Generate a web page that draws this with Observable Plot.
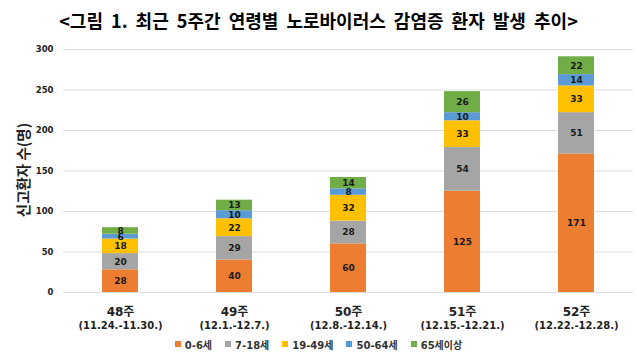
<!DOCTYPE html>
<html><head><meta charset="utf-8">
<script src="https://cdn.jsdelivr.net/npm/d3@7"></script>
<script src="https://cdn.jsdelivr.net/npm/@observablehq/plot@0.6"></script>
<style>
body{margin:0;background:#fff;width:637px;height:364px;overflow:hidden;font-family:"DejaVu Sans","Noto Sans CJK KR",sans-serif;}
#title{height:38px;line-height:40px;text-align:center;font-family:"Noto Sans CJK KR";font-weight:700;font-size:18px;color:#000;word-spacing:4px;}
#chart{position:relative;height:300px;}
#ytitle{position:absolute;left:22px;top:132px;transform:translate(-50%,-50%) rotate(-90deg);font-family:"Noto Sans CJK KR";font-weight:700;font-size:14.5px;white-space:nowrap;color:#222;}
#legend{display:flex;justify-content:center;gap:13px;font-weight:700;font-size:10px;color:#333;height:20px;align-items:center;margin-top:-4px;}
#legend span.sw{display:inline-block;width:6px;height:6px;margin-right:4px;}
#legend div{display:flex;align-items:center;}
</style></head>
<body>
<div id="title">&lt;그림 1. 최근 5주간 연령별 노로바이러스 감염증 환자 발생 추이&gt;</div>
<div id="chart"><div id="ytitle">신고환자 수(명)</div></div>
<div id="legend"></div>
<script>
const weeks = ["48주", "49주", "50주", "51주", "52주"];
const periods = ["(11.24.-11.30.)", "(12.1.-12.7.)", "(12.8.-12.14.)", "(12.15.-12.21.)", "(12.22.-12.28.)"];
const ages = ["0-6세", "7-18세", "19-49세", "50-64세", "65세이상"];
const colors = ["#ED7D31", "#A5A5A5", "#FFC000", "#5B9BD5", "#70AD47"];
const age0_6 = [28, 40, 60, 125, 171];
const age7_18 = [20, 29, 28, 54, 51];
const age19_49 = [18, 22, 32, 33, 33];
const age50_64 = [6, 10, 8, 10, 14];
const age65 = [8, 13, 14, 26, 22];
const yTicks = [0, 50, 100, 150, 200, 250, 300];

const series = [age0_6, age7_18, age19_49, age50_64, age65];
const data = [];
weeks.forEach((w, i) => series.forEach((s, j) => data.push({week: w, age: ages[j], value: s[i]})));
const xlab = weeks.map((w, i) => ({week: w, period: periods[i]}));

const chart = Plot.plot({
  width: 637, height: 300,
  marginTop: 11, marginBottom: 46, marginLeft: 63, marginRight: 4,
  style: {fontFamily: '"DejaVu Sans","Noto Sans CJK KR",sans-serif', fontWeight: 700, color: "#222", background: "#fff"},
  x: {domain: weeks, paddingInner: 0.684, paddingOuter: 0.342, label: null, axis: null},
  y: {domain: [0, 300], ticks: yTicks, label: null},
  color: {domain: ages, range: colors},
  marks: [
    Plot.gridY(yTicks, {stroke: "#dcdcdc", strokeOpacity: 1}),
    Plot.barY(data, {x: "week", y: "value", fill: "age", order: ages}),
    Plot.text(data, Plot.stackY({x: "week", y: "value", z: "age", order: ages, text: "value", fill: "#1a1a1a", fontSize: 9, fontWeight: 700})),
    Plot.axisY({ticks: yTicks, tickSize: 0, tickPadding: 10, fontSize: 8.5, fontWeight: 700, label: null}),
    Plot.text(xlab, {x: "week", text: "week", frameAnchor: "bottom", lineAnchor: "middle", dy: 20, fontSize: 12, fontWeight: 700, fill: "#222"}),
    Plot.text(xlab, {x: "week", text: "period", frameAnchor: "bottom", lineAnchor: "middle", dy: 33, fontSize: 10, fontWeight: 700, fill: "#222"})
  ]
});
document.getElementById("chart").appendChild(chart);

const lg = document.getElementById("legend");
ages.forEach((a, j) => {
  const d = document.createElement("div");
  d.innerHTML = `<span class="sw" style="background:${colors[j]}"></span>${a}`;
  lg.appendChild(d);
});
</script>
</body></html>
